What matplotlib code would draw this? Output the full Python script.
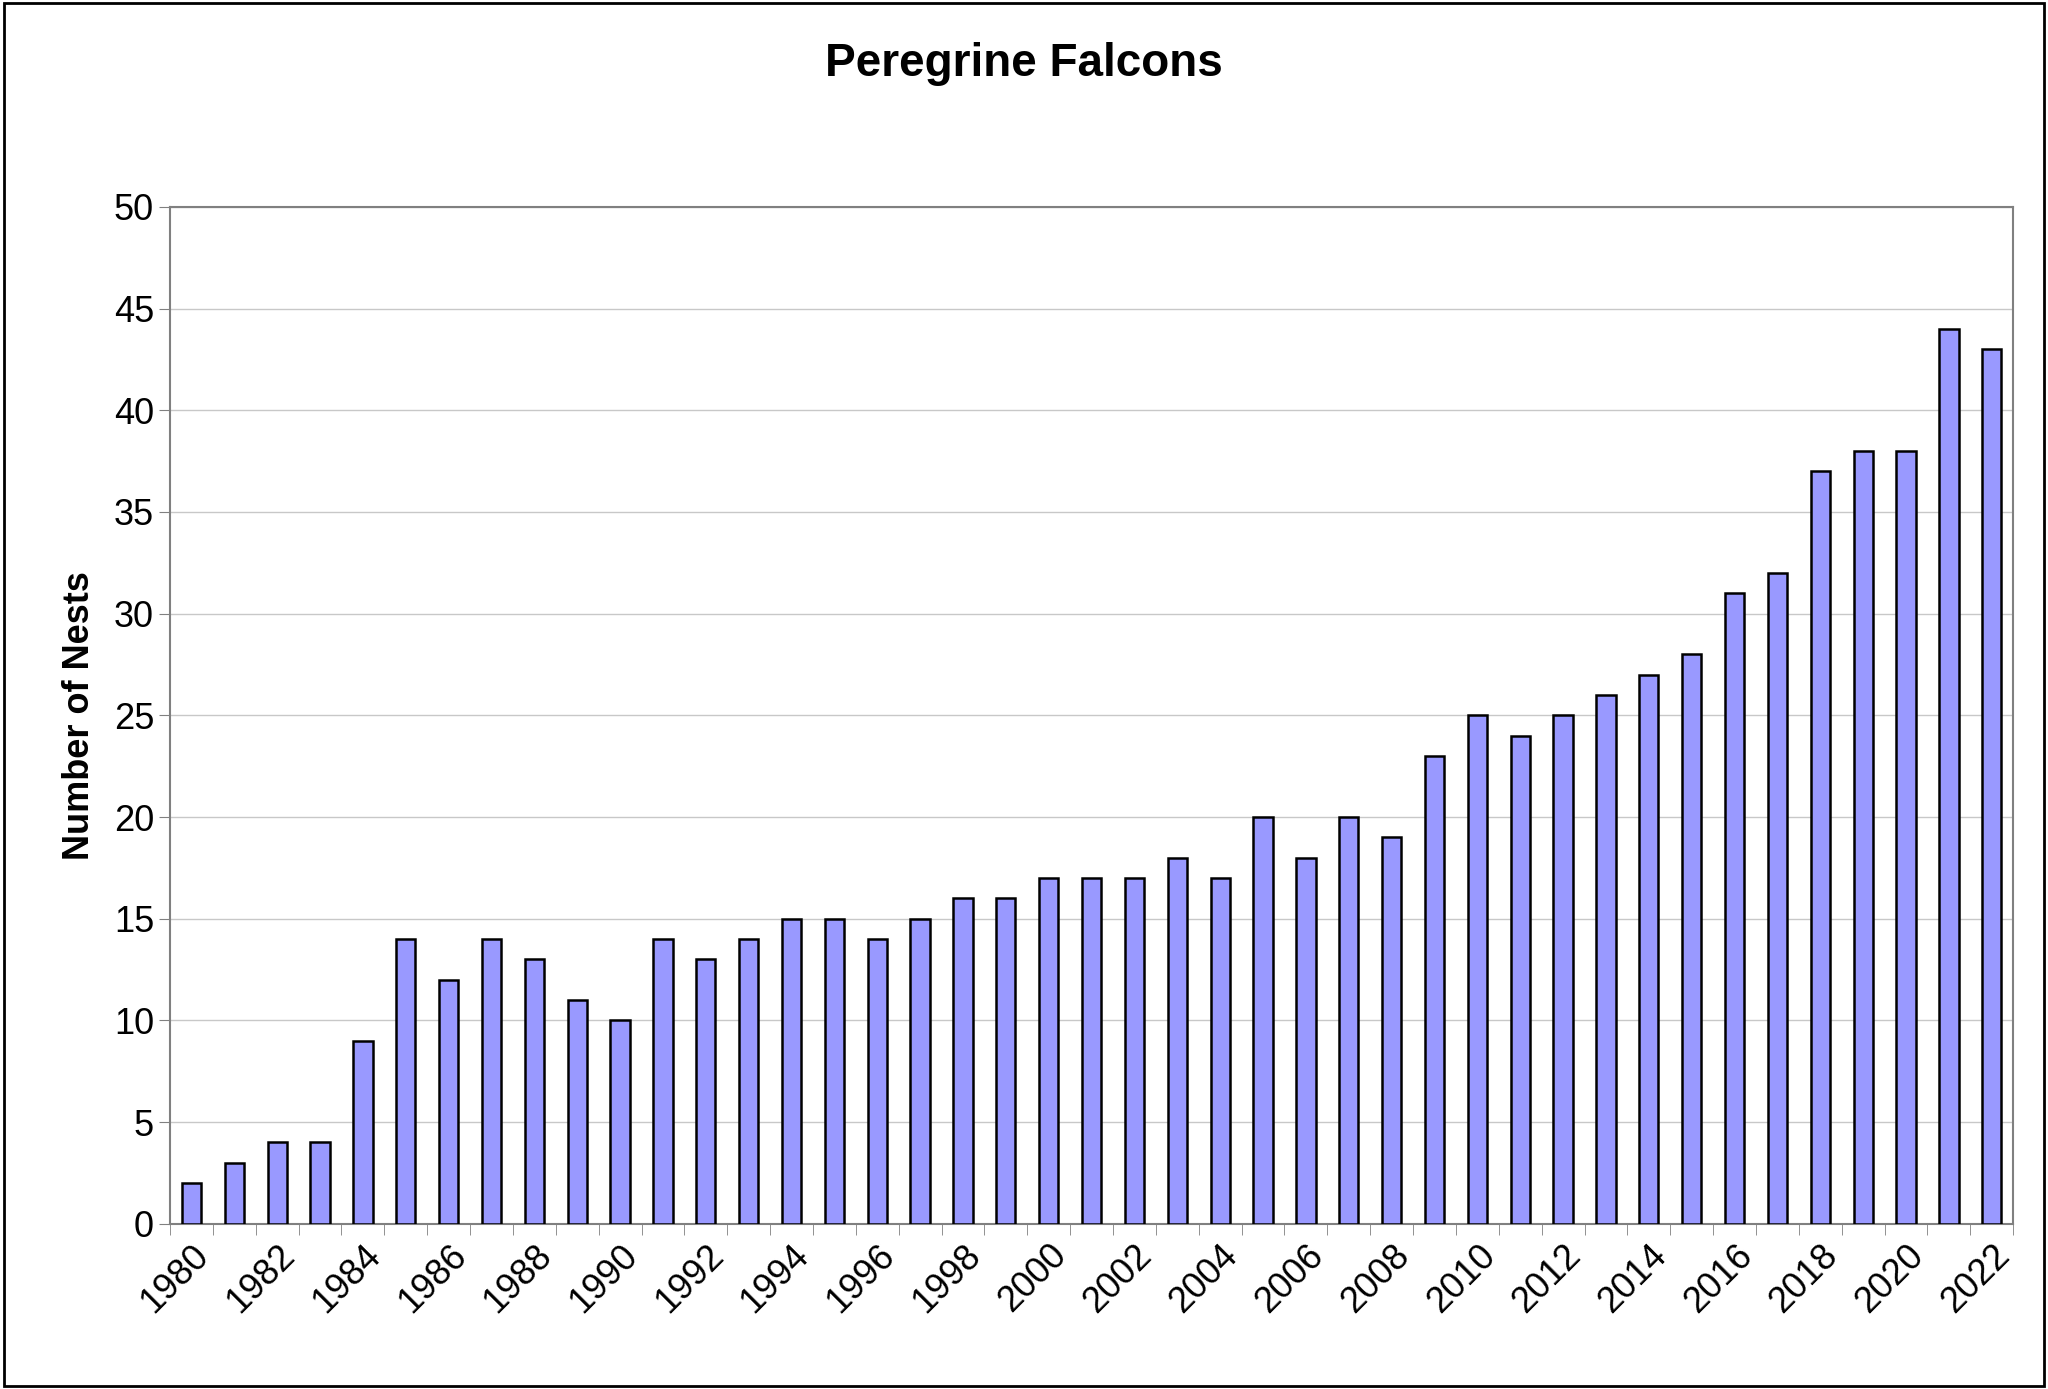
import matplotlib
matplotlib.use("Agg")
import matplotlib.pyplot as plt
import numpy as np

years = list(range(1980, 2023))
nests = [2, 3, 4, 4, 9, 14, 12, 14, 13, 11, 10, 14, 13, 14, 15, 15, 14, 15, 16, 16,
         17, 17, 17, 18, 17, 20, 18, 20, 19, 23, 25, 24, 25, 26, 27, 28, 31, 32, 37,
         38, 38, 44, 43]

plt.rcParams['font.family'] = ['Liberation Sans', 'DejaVu Sans']
fig = plt.figure(figsize=(20.48, 13.89), dpi=100)
ax = fig.add_axes([0.083, 0.119, 0.9, 0.732])
x = np.arange(len(years))
ax.bar(x, nests, width=0.45, color='#9999FF', edgecolor='black', linewidth=1.8, zorder=3)
ax.set_xlim(-0.5, len(years) - 0.5)
ax.set_ylim(0, 50)
ax.set_yticks(range(0, 51, 5))
ax.yaxis.grid(True, color='#c8c8c8', linewidth=1, zorder=0)
ax.set_xticks(x[::2])
ax.set_xticklabels([str(y) for y in years[::2]], rotation=45, ha='right', rotation_mode='anchor')
ax.set_xticks(np.arange(-0.5, len(years)), minor=True)
ax.tick_params(axis='x', which='major', length=0, labelsize=26, pad=10)
ax.tick_params(axis='x', which='minor', length=8, color='#808080')
ax.tick_params(axis='y', labelsize=26, length=8, color='#808080')
for s in ax.spines.values():
    s.set_color('#808080')
    s.set_linewidth(1.5)
ax.set_ylabel('Number of Nests', fontsize=26, fontweight='bold', labelpad=12)
fig.suptitle('Peregrine Falcons', fontsize=33, fontweight='bold', y=0.97)
fig.patches.append(plt.Rectangle((0.002, 0.002), 0.996, 0.996, transform=fig.transFigure,
                                 fill=False, edgecolor='black', linewidth=2))
fig.savefig('out.png', dpi=100)
